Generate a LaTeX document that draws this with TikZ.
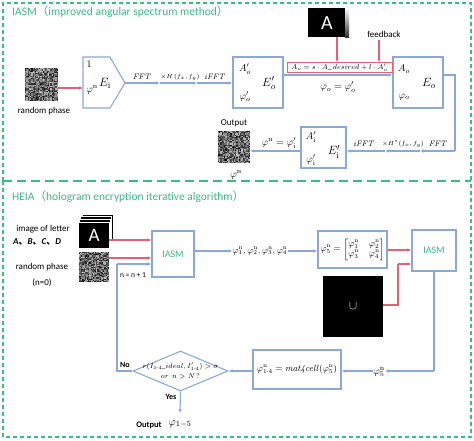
\documentclass[tikz,border=0pt]{standalone}
\usepackage{amsmath}
\usepackage[no-math]{fontspec}
\setmainfont{Carlito}
\newfontfamily\cjk{Noto Sans CJK SC}
\usetikzlibrary{arrows.meta,shapes.geometric}
\definecolor{lblue}{RGB}{140,168,218}
\definecolor{lred}{RGB}{228,96,116}
\definecolor{grn}{RGB}{46,196,128}
\definecolor{tgrn}{RGB}{58,186,132}
\newcommand\noisepatch[4]{% x0 y0 size seed
  \begin{scope}[shift={(#1,#2)}]
  \pgfmathsetseed{#4}
  \pgfmathsetmacro\cs{#3/26}
  \foreach \i in {0,...,25}{\foreach \j in {0,...,25}{
    \pgfmathsetmacro\g{int(25+70*rnd)}
    \fill[black!\g] (\i*\cs,\j*\cs) rectangle ++(\cs+0.05,\cs+0.05);
  }}
  \end{scope}}
\begin{document}
\begin{tikzpicture}[x=1pt,y=-1pt,
  box/.style={draw=lblue,line width=1.1pt,fill=white,inner sep=0pt},
  bline/.style={draw=lblue,line width=1.1pt},
  barr/.style={draw=lblue,line width=1.1pt,-{Latex[length=4pt,width=3.5pt]}},
  rarr/.style={draw=lred,line width=1.1pt,-{Latex[length=4pt,width=3.5pt]}},
  lab/.style={inner sep=0.5pt,font=\fontsize{8.5}{9}\selectfont},
  slab/.style={inner sep=0.5pt,font=\fontsize{6.5}{7}\selectfont},
  big/.style={inner sep=0pt,font=\fontsize{13}{14}\selectfont},
  mid/.style={inner sep=0pt,font=\fontsize{10}{11}\selectfont},
  txt/.style={inner sep=0pt,font=\fontsize{9}{10}\selectfont},
  imgbox/.style={inner sep=0pt,draw=none},
  frame/.style={draw=grn,line width=2.2pt,dash pattern=on 4pt off 3pt},
  sepline/.style={draw=grn,line width=2.2pt,dash pattern=on 9pt off 5pt},
  title/.style={inner sep=0pt,anchor=west,text=tgrn,font=\fontsize{11.5}{12}\selectfont}]
\useasboundingbox (0,0) rectangle (474,440);

% frames
\draw[frame] (3,181) -- (3,3) -- (471,3) -- (471,181);
\draw[frame] (3,181) -- (3,437) -- (471,437) -- (471,181);
\draw[sepline] (3,181) -- (471,181);

\node[title] (t1) at (12,12) {IASM{\cjk（}improved angular spectrum method{\cjk）}};
\node[title] (t2) at (12,197) {HEIA{\cjk（}hologram encryption iterative algorithm{\cjk）}};

% ================= top part =================
\noisepatch{25}{68}{33}{11}
\node[imgbox,minimum width=33,minimum height=32] (rp) at (41.5,84) {};
\node[txt] (rplab) at (44,111) {random phase};

% pentagon E1
\coordinate (pa) at (83,57);
\coordinate (E1tip) at (125,83);
\draw[bline] (pa) -- (110,57) -- (E1tip) -- (110,108) -- (83,108) -- cycle;
\coordinate (E1in) at (83,88);
\node[mid] (one) at (89,64) {$1$};
\node[mid] (p1) at (92,90) {$\varphi^{\mathrm{n}}$};
\node[big] (e1) at (105,83) {$E_{\mathrm{i}}$};
\draw[rarr] (rp.east |- E1in) -- (E1in);

\node[box,minimum width=50,minimum height=51] (Eop) at (258,82.5) {};
\node[mid] at (245,69) {$A'_{o}$};
\node[mid] at (245,97) {$\varphi'_{o}$};
\node[big] at (269,83) {$E'_{o}$};

\coordinate (m1) at (160,83);
\coordinate (m2) at (197,83);
\draw[barr] (E1tip) -- (m1);
\draw[barr] (m1) -- (m2);
\draw[barr] (m2) -- (Eop.west |- m2);
\node[lab] at (142,77) {$\mathit{FFT}$};
\node[slab] at (180,77) {$\times H\,(f_x,f_y)$};
\node[lab] at (215,77) {$\mathit{iFFT}$};

\node[box,minimum width=50,minimum height=51] (Eo) at (418,82.5) {};
\node[mid] at (404,69) {$A_{o}$};
\node[mid] at (404,97) {$\varphi_{o}$};
\node[big] at (429,83) {$E_{o}$};

\draw[barr] (Eop.east |- 0,75) -- (Eo.west |- 0,75);
\node[draw=lred,line width=1pt,minimum width=105,minimum height=9.5,inner sep=0pt,
  font=\fontsize{7.5}{8}\selectfont] (fb) at (339.5,67.5)
  {$A_o = s\cdot A\_\,desired + l\cdot A'_o$};
\node[mid] at (338,87) {$\varphi_o = \varphi'_o$};

% letter A image
\node[imgbox,fill=black,minimum width=37,minimum height=29] (imA) at (326.5,22.5) {};
\node[inner sep=0pt,text=white,font=\fontsize{20}{20}\selectfont] at (327,23) {A};
\shade[top color=white,bottom color=black!80] (345,8) rectangle (349,37);
\node[txt] (fbt) at (384,34) {feedback};
\draw[rarr] (imA.south -| 337,0) -- (fb.north -| 337,0);
\draw[rarr] (379,40) -- (fb.north -| 379,0);

% return path
\node[box,minimum width=45,minimum height=41] (E1p) at (323.5,147.5) {};
\node[mid] at (311,137) {$A'_{\mathrm{i}}$};
\node[mid] at (311,160) {$\varphi'_{\mathrm{i}}$};
\node[big] at (334,152) {$E'_{\mathrm{i}}$};
\coordinate (r1) at (455,75);
\coordinate (r2) at (455,151);
\coordinate (r3) at (420,151);
\coordinate (r4) at (385,151);
\draw[bline] (Eo.east |- r1) -- (r1) -- (r2);
\draw[barr] (r2) -- (r3);
\draw[barr] (r3) -- (r4);
\draw[barr] (r4) -- (E1p.east |- r4);
\node[lab] at (438,144) {$\mathit{FFT}$};
\node[slab] at (403,144) {$\times H^{*}(f_x,f_y)$};
\node[lab] at (364,144) {$\mathit{iFFT}$};

\noisepatch{218}{131}{32}{27}
\node[imgbox,minimum width=32,minimum height=32] (out1) at (234,147) {};
\draw[barr] (E1p.west |- 0,151) -- (out1.east |- 0,151);
\node[mid] at (279,143) {$\varphi^{\mathrm{n}} = \varphi'_{\mathrm{i}}$};
\node[txt] at (234,123) {Output};
\node[mid] at (236,175) {$\varphi^{\mathrm{n}}$};

% ================= bottom part =================
% stack of letter images
\foreach \k in {3,2,1}{
  \fill[black,draw=white,line width=0.6pt] (78+1.3*\k,222-2.7*\k) rectangle ++(31,26);
}
\node[imgbox,fill=black,draw=white,line width=0.6pt,minimum width=31,minimum height=26] (imL) at (93.5,235) {};
\node[inner sep=0pt,text=white,font=\fontsize{19}{19}\selectfont] at (94,235) {A};
\node[txt] at (43,229) {image of letter};
\node[inner sep=0pt,anchor=west,font=\fontsize{9}{10}\selectfont\bfseries\itshape] at (13,242) {A{\cjk\upshape 、}B{\cjk\upshape 、}C{\cjk\upshape 、}D};

\noisepatch{79}{252}{30}{5}
\node[imgbox,minimum width=30,minimum height=30] (rp2) at (94,267) {};
\node[txt] at (42,267) {random phase};
\node[txt] at (42,283) {(n=0)};

\node[box,minimum width=42,minimum height=46,text=tgrn,font=\fontsize{10}{11}\selectfont] (ias1) at (173,254) {IASM};
\draw[rarr] (imL.east |- 0,240) -- (ias1.west |- 0,240);
\draw[rarr] (rp2.east |- 0,258) -- (ias1.west |- 0,258);

\node[inner sep=0pt,font=\fontsize{9}{10}\selectfont] (plist) at (260,251) {$\varphi^{\mathrm{n}}_1,\varphi^{\mathrm{n}}_2,\varphi^{\mathrm{n}}_3,\varphi^{\mathrm{n}}_4$};
\draw[barr] (ias1.east |- 0,251) -- (plist.west |- 0,251);

\node[box,minimum width=69,minimum height=37,font=\fontsize{9}{10}\selectfont] (mat) at (352.5,249.5)
  {$\varphi^{\mathrm{n}}_5=\begin{bmatrix}\varphi^{\mathrm{n}}_1 & \varphi^{\mathrm{n}}_2\\ \varphi^{\mathrm{n}}_3 & \varphi^{\mathrm{n}}_4\end{bmatrix}$};
\draw[barr] (plist.east |- 0,251) -- (mat.west |- 0,251);

\node[box,minimum width=44,minimum height=41,text=tgrn,font=\fontsize{10}{11}\selectfont] (ias2) at (434,250.5) {IASM};
\draw[rarr] (mat.east |- 0,250) -- (ias2.west |- 0,250);

\node[imgbox,fill=black,minimum width=60,minimum height=61] (imU) at (353,306.5) {};
\node[inner sep=0pt,text=white,font=\fontsize{12}{12}\selectfont] at (353,306) {$\cup$};
\coordinate (u1) at (398,305);
\coordinate (u2) at (398,264);
\draw[lred,line width=1.1pt] (imU.east |- u1) -- (u1) -- (u2);
\draw[rarr] (u2) -- (ias2.west |- u2);

% loop back
\node[mid] (p5) at (379,372) {$\varphi^{\mathrm{n}}_5$};
\coordinate (d1) at (434,371);
\draw[bline] (ias2.south) -- (d1);
\draw[barr] (d1) -- (p5.east |- d1);

\node[box,minimum width=88,minimum height=39,font=\fontsize{9}{10}\selectfont] (m4) at (297,369.5)
  {$\varphi^{\mathrm{n}}_{1\text{-}4} = \mathit{mat4cell}(\varphi^{\mathrm{n}}_5)$};
\draw[barr] (p5.west |- d1) -- (m4.east |- d1);

\node[diamond,draw=lblue,line width=1.1pt,minimum width=95,minimum height=40,inner sep=0pt] (dia) at (180.5,371) {};
\node[inner sep=0pt,align=center,font=\fontsize{7}{10}\selectfont] at (180.5,371)
  {$r(I_{1\text{-}4}\_ideal,I'_{1\text{-}4})>\sigma$\\ $or\ \ n>N\,?$};
\draw[barr] (m4.west |- dia) -- (dia.east);

\coordinate (l1) at (117,371);
\coordinate (l2) at (117,264);
\draw[bline] (dia.west) -- (l1) -- (l2);
\draw[barr] (l2) -- (ias1.west |- l2);
\node[inner sep=0pt,font=\fontsize{7.5}{8}\selectfont] at (133,275) {n = n + 1};
\node[inner sep=0pt,font=\fontsize{8}{9}\selectfont\bfseries] at (125,365) {No};
\node[inner sep=0pt,font=\fontsize{8}{9}\selectfont\bfseries] at (171,397) {Yes};

\node[inner sep=0pt,font=\fontsize{11}{12}\selectfont] (outp) at (180,424) {$\varphi_{1-5}$};
\node[inner sep=0pt,font=\fontsize{8.5}{9}\selectfont\bfseries] at (149,425) {Output};
\coordinate (yend) at (180,413);
\draw[barr] (dia.south) -- (yend);
\end{tikzpicture}
\end{document}
